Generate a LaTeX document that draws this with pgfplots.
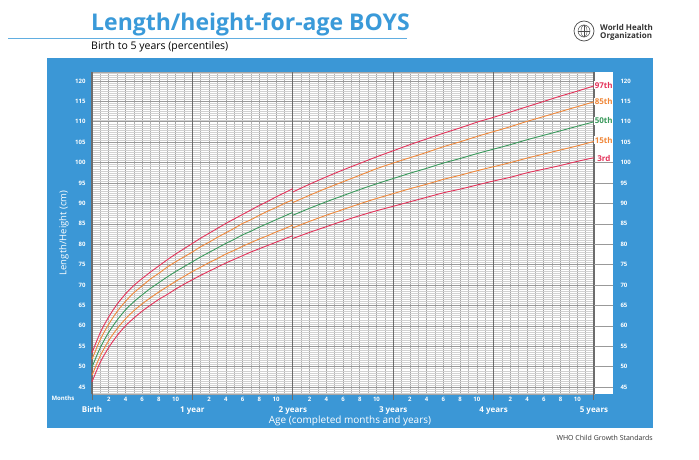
\documentclass[border=0pt]{standalone}
\usepackage{pgfplots}
\usepackage{pgfplotstable}
\pgfplotsset{compat=1.18}
\usepackage{fontspec}
\setmainfont{Open Sans}
\definecolor{whoblue}{HTML}{3B97D6}
\definecolor{titleblue}{HTML}{3A9AD9}
\definecolor{pred}{HTML}{E4335A}
\definecolor{porange}{HTML}{F0883A}
\definecolor{pgreen}{HTML}{3A9A5C}

\pgfplotstableread{
m p3 p15 p50 p85 p97
0 46.3 47.9 49.9 51.8 53.4
1 51.1 52.7 54.7 56.7 58.4
2 54.7 56.4 58.4 60.4 62.2
3 57.6 59.3 61.4 63.5 65.3
4 60.0 61.7 63.9 66.0 67.8
5 61.9 63.7 65.9 68.1 69.9
6 63.6 65.4 67.6 69.8 71.6
7 65.1 66.9 69.2 71.5 73.2
8 66.5 68.3 70.6 72.9 74.7
9 67.7 69.6 72.0 74.4 76.2
10 69.0 70.9 73.3 75.7 77.6
11 70.2 72.1 74.5 76.9 78.9
12 71.3 73.3 75.7 78.1 80.2
13 72.4 74.4 76.9 79.4 81.5
14 73.4 75.5 78.0 80.5 82.7
15 74.4 76.5 79.1 81.7 83.9
16 75.4 77.6 80.2 82.8 85.1
17 76.3 78.5 81.2 83.9 86.2
18 77.2 79.5 82.3 85.1 87.3
19 78.1 80.4 83.2 86.0 88.4
20 78.9 81.3 84.2 87.1 89.5
21 79.7 82.1 85.1 88.1 90.5
22 80.5 83.0 86.0 89.0 91.6
23 81.3 83.8 86.9 90.0 92.6
24 82.1 84.7 87.8 90.9 93.6
}\lengthtab

\pgfplotstableread{
m p3 p15 p50 p85 p97
24 81.4 84.0 87.1 90.2 92.8
26 82.9 85.6 88.8 92.0 94.7
28 84.3 87.1 90.4 93.7 96.5
30 85.7 88.5 91.9 95.3 98.2
32 87.0 89.9 93.4 96.9 99.8
34 88.2 91.2 94.8 98.5 101.4
36 89.3 92.4 96.1 99.9 102.9
38 90.4 93.6 97.4 101.2 104.4
40 91.5 94.7 98.6 102.5 105.8
42 92.6 95.9 99.9 103.9 107.2
44 93.5 96.9 101.0 105.1 108.5
46 94.5 98.0 102.2 106.4 109.9
48 95.5 99.0 103.3 107.6 111.1
50 96.4 100.0 104.4 108.8 112.4
52 97.5 101.1 105.6 110.1 113.7
54 98.4 102.1 106.7 111.3 115.0
56 99.3 103.1 107.8 112.5 116.3
58 100.3 104.1 108.9 113.7 117.5
60 101.2 105.2 110.0 114.9 118.8
}\heighttab

\begin{document}
\begin{tikzpicture}[x=1pt,y=1pt]
\fill[white] (0,0) rectangle (699,-460);
% header
\node[anchor=base west, text=titleblue, font=\fontsize{23}{23}\selectfont\bfseries, inner sep=0] at (91,-31) {Length/height-for-age BOYS};
\draw[titleblue!80, line width=0.8] (8,-38) -- (407,-38);
\node[anchor=base west, font=\fontsize{10.5}{11}\selectfont, inner sep=0] at (91,-50) {Birth to 5 years (percentiles)};
% logo
\begin{scope}[gray!60!black]
\draw[line width=0.7] (584,-31) circle (10);
\draw[line width=0.5] (584,-31) circle (6);
\draw[line width=0.4] (578,-31) -- (590,-31) (584,-37) -- (584,-25);
\draw[line width=0.4] (584,-31) ellipse (3 and 6);
\end{scope}
\node[anchor=north west, align=left, font=\fontsize{8}{8.5}\selectfont\bfseries, text=black!80, inner sep=0] at (600,-24) {World Health\\Organization};
% blue panel
\fill[whoblue] (47,-58) rectangle (653,-428);
\fill[white] (92,-72) rectangle (613,-394);
% right-hand tick labels
\begin{axis}[
 scale only axis, width=521pt, height=322pt,
 at={(92pt,-394pt)}, anchor=south west,
 xmin=0, xmax=62.3, ymin=43.3, ymax=122.2,
 axis line style={draw=none},
 xtick=\empty, ytick={45,50,...,120},
 yticklabel pos=right,
 major tick length=0pt,
 /pgf/number format/assume math mode=true,
 tick label style={font=\fontsize{6}{6}\selectfont\bfseries, text=white},
 yticklabel style={xshift=4pt},
]
\end{axis}
\begin{axis}[
 scale only axis, width=502pt, height=322pt,
 at={(92pt,-394pt)}, anchor=south west,
 xmin=0, xmax=60, ymin=43.3, ymax=122.2,
 clip=false,
 xtick pos=bottom, ytick pos=left,
 axis line style={gray!70, line width=0.5pt},
 xtick={2,4,6,8,10,14,16,18,20,22,26,28,30,32,34,38,40,42,44,46,50,52,54,56,58},
 xticklabels={2,4,6,8,10,2,4,6,8,10,2,4,6,8,10,2,4,6,8,10,2,4,6,8,10},
 minor xtick={1,3,...,59},
 ytick={40,45,...,125},
 minor y tick num=9,
 xmajorgrids, xminorgrids, ymajorgrids, yminorgrids,
 major x grid style={gray!72, line width=0.7pt},
 minor x grid style={gray!60, line width=0.6pt},
 major y grid style={gray!80, line width=0.6pt},
 minor y grid style={gray!36, line width=0.4pt},
 major tick length=0pt, minor tick length=0pt,
 /pgf/number format/assume math mode=true,
 tick label style={font=\fontsize{6}{6}\selectfont\bfseries, text=white},
 yticklabel style={xshift=-3pt},
 extra x ticks={0,12,24,36,48,60},
 extra x tick labels={Birth,1 year,2 years,3 years,4 years,5 years},
 extra x tick style={major tick length=6pt, tick align=outside,
   tick style={gray!85!black, line width=1pt},
   major x grid style={gray!85!black, line width=1.3pt},
   tick label style={font=\fontsize{8}{8}\selectfont\bfseries, yshift=-3pt}},
]
\foreach \v in {45,50,...,120} {
  \edef\tmp{\noexpand\draw[gray!80, line width=0.6pt] (axis cs:60,\v) -- (axis cs:62.3,\v);}
  \tmp
}
\addplot[pred, line width=0.9pt, smooth] table[x=m, y=p3] {\lengthtab};
\addplot[porange, line width=0.9pt, smooth] table[x=m, y=p15] {\lengthtab};
\addplot[pgreen, line width=0.9pt, smooth] table[x=m, y=p50] {\lengthtab};
\addplot[porange, line width=0.9pt, smooth] table[x=m, y=p85] {\lengthtab};
\addplot[pred, line width=0.9pt, smooth] table[x=m, y=p97] {\lengthtab};
\addplot[pred, line width=0.9pt, smooth] table[x=m, y=p3] {\heighttab};
\addplot[porange, line width=0.9pt, smooth] table[x=m, y=p15] {\heighttab};
\addplot[pgreen, line width=0.9pt, smooth] table[x=m, y=p50] {\heighttab};
\addplot[porange, line width=0.9pt, smooth] table[x=m, y=p85] {\heighttab};
\addplot[pred, line width=0.9pt, smooth] table[x=m, y=p97] {\heighttab};
\node[anchor=west, fill=white, text=pred, font=\fontsize{8}{8}\selectfont\bfseries, inner sep=0.6pt] at (axis cs:60,119.0) {97th};
\node[anchor=west, fill=white, text=porange, font=\fontsize{8}{8}\selectfont\bfseries, inner sep=0.6pt] at (axis cs:60,115.0) {85th};
\node[anchor=west, fill=white, text=pgreen, font=\fontsize{8}{8}\selectfont\bfseries, inner sep=0.6pt] at (axis cs:60,110.2) {50th};
\node[anchor=west, fill=white, text=porange, font=\fontsize{8}{8}\selectfont\bfseries, inner sep=0.6pt] at (axis cs:60,105.5) {15th};
\node[anchor=west, fill=white, text=pred, font=\fontsize{8}{8}\selectfont\bfseries, inner sep=0.6pt] at (axis cs:60.3,101.0) {3rd};
\end{axis}
% axis texts
\node[text=white, font=\fontsize{6}{6}\selectfont\bfseries] at (63,-398) {Months};
\node[text=white, font=\fontsize{10}{11}\selectfont] at (350,-421) {Age (completed months and years)};
\node[text=white, font=\fontsize{9.5}{10}\selectfont, rotate=90] at (64,-233) {Length/Height (cm)};
\node[anchor=east, font=\fontsize{7}{7}\selectfont, text=black!80, inner sep=0] at (653,-438) {WHO Child Growth Standards};
\end{tikzpicture}
\end{document}
